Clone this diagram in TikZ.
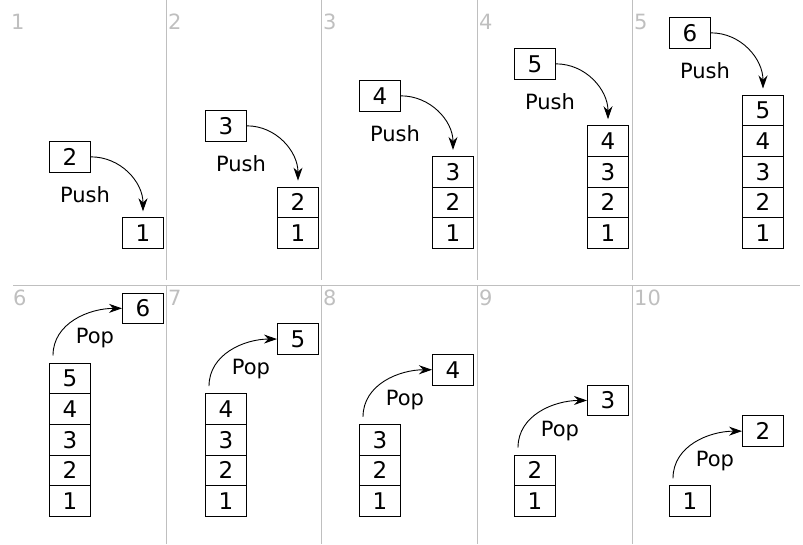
\documentclass[tikz,border=0pt]{standalone}
\usepackage{fontspec}
\setmainfont{DejaVu Sans}
\usetikzlibrary{arrows.meta}
\begin{document}
\begin{tikzpicture}[x=1pt,y=-1pt,
  cell/.style={draw,line width=1pt,minimum width=41pt,minimum height=30.7pt,inner sep=0pt,font=\fontsize{23}{23}\selectfont,anchor=north west},
  lbl/.style={font=\fontsize{21}{21}\selectfont},
  num/.style={font=\fontsize{21}{21}\selectfont,text=black!25,anchor=north west,inner sep=0pt},
  arr/.style={-{Stealth[length=13pt,width=9pt]},line width=0.9pt},
  sep/.style={draw=black!25,line width=1pt}]
\useasboundingbox (0,0) rectangle (803,544);
\draw[sep] (166,0) -- (166,280) (321,0) -- (321,280) (477,0) -- (477,280) (632,0) -- (632,280);
\draw[sep] (166,285) -- (166,544) (321,285) -- (321,544) (477,285) -- (477,544) (632,285) -- (632,544);
\draw[sep] (13,285) -- (800,285);
\foreach \i/\x/\y in {1/11/14,2/168/14,3/323/14,4/479/14,5/634/14,6/13/290,7/168/290,8/323/290,9/479/290,10/634/290}
  \node[num] (n\i) at (\x,\y) {\i};
% push panels
\foreach \p/\tx/\ty/\sx/\k in {1/49/141/122/1,2/205/110/277/2,3/359/80/432/3,4/514/48/587/4,5/669/17/742/5}{
  \pgfmathtruncatemacro{\t}{\k+1}
  \node[cell] (t\p) at (\tx,\ty) {\t};
  \foreach \j in {1,...,\k}{
    \node[cell] (s\p\j) at (\sx,{248-30.7*\j}) {\j};
  }
  \draw[arr] (t\p.east) to[out=0,in=90] ([yshift=6pt]s\p\k.north);
  \node[lbl] (pu\p) at (\tx+36,\ty+54) {Push};
}
% pop panels
\foreach \p/\sx/\tx/\k in {6/49/122/5,7/205/277/4,8/359/432/3,9/514/587/2,10/669/742/1}{
  \pgfmathtruncatemacro{\t}{\k+1}
  \node[cell] (u\p) at (\tx,{516-30.7*\k-70}) {\t};
  \foreach \j in {1,...,\k}{
    \node[cell] (q\p\j) at (\sx,{516-30.7*\j}) {\j};
  }
  \draw[arr] ([xshift=-17pt,yshift=7pt]q\p\k.north) to[out=90,in=180] (u\p.west);
  \node[lbl] (po\p) at (\sx+46,{516-30.7*\k-24}) {Pop};
}
\end{tikzpicture}
\end{document}
